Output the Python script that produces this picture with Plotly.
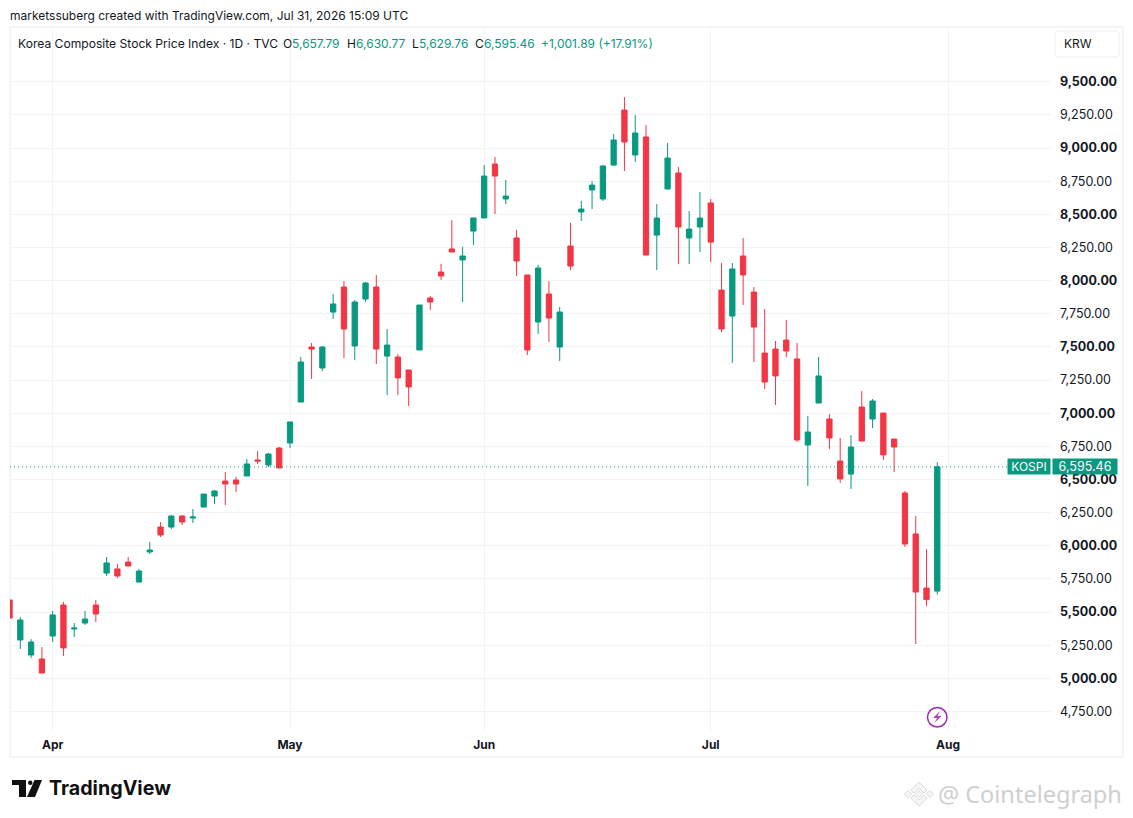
import plotly.graph_objects as go

# candles in trading-day order (index 0 is the clipped bar at the left edge)
opens = [5591, 5289, 5176, 5146, 5319, 5553, 5372, 5417, 5553, 5794, 5825, 5877, 5726, 5953, 6141, 6141, 6224, 6209, 6292,
         6375, 6488, 6496, 6526, 6647, 6609, 6737, 6775, 7084, 7499, 7341, 7763, 7952, 7507, 7861, 7952, 7431, 7424, 7326,
         7477, 7869, 8065, 8239, 8156, 8374, 8473, 8880, 8616, 8322, 8043, 7688, 7899, 7499, 8261, 8518, 8684, 8616, 8872,
         9287, 8948, 9084, 8344, 8691, 8812, 8322, 8405, 8586, 7929, 7733, 8186, 7914, 7454, 7484, 7552, 7409, 6760, 7077,
         6956, 6639, 6541, 7047, 6956, 7001, 6805, 6398, 6089, 5681, 5657.79]
highs = [5591, 5462, 5296, 5236, 5508, 5576, 5417, 5508, 5591, 5915, 5862, 5915, 5825, 6028, 6179, 6232, 6232, 6277, 6390,
         6421, 6556, 6519, 6654, 6715, 6700, 6745, 6934, 7424, 7530, 7507, 7899, 7997, 7854, 7990, 8043, 7635, 7446, 7326,
         7816, 7884, 8126, 8457, 8254, 8473, 8872, 8933, 8759, 8382, 8043, 8118, 7997, 7801, 8435, 8601, 8752, 8872, 9106,
         9385, 9249, 9174, 8578, 9038, 8857, 8525, 8669, 8616, 8133, 8133, 8322, 7952, 7786, 7545, 7703, 7529, 6979, 7424,
         6994, 6813, 6835, 7167, 7107, 7001, 6805, 6413, 6224, 5975, 6630.77]
lows = [5455, 5221, 5153, 5040, 5274, 5168, 5312, 5402, 5425, 5772, 5757, 5847, 5726, 5938, 6066, 6126, 6156, 6172, 6292,
        6315, 6307, 6405, 6526, 6617, 6594, 6587, 6737, 7084, 7258, 7318, 7711, 7416, 7401, 7839, 7371, 7137, 7137, 7054,
        7477, 7778, 8005, 8216, 7839, 8269, 8473, 8503, 8578, 8035, 7439, 7597, 7537, 7394, 8080, 8450, 8540, 8601, 8865,
        8827, 8895, 8193, 8080, 8691, 8125, 8125, 8216, 8141, 7612, 7379, 7816, 7386, 7182, 7062, 7424, 6783, 6451, 7077,
        6730, 6473, 6428, 6790, 6888, 6647, 6556, 5991, 5259, 5545, 5629.76]
closes = [5455, 5440, 5274, 5040, 5478, 5229, 5379, 5447, 5485, 5870, 5772, 5847, 5809, 5968, 6081, 6224, 6179, 6217, 6390,
          6413, 6466, 6466, 6617, 6639, 6692, 6587, 6934, 7386, 7484, 7499, 7824, 7635, 7839, 7982, 7484, 7514, 7266, 7198,
          7816, 7839, 8035, 8216, 8186, 8473, 8789, 8789, 8638, 8148, 7477, 8095, 7718, 7763, 8110, 8540, 8721, 8865, 9061,
          9046, 9114, 8193, 8472, 8925, 8405, 8389, 8472, 8291, 7635, 8088, 8043, 7650, 7235, 7281, 7469, 6798, 6858, 7281,
          6813, 6504, 6745, 6790, 7092, 6685, 6745, 6013, 5651, 5593.57, 6595.46]

month_labels = ['Apr', 'May', 'Jun', 'Jul', 'Aug']
month_idx = [4, 26, 44, 65, 87]
price_ticks = [4750, 5000, 5250, 5500, 5750, 6000, 6250, 6500, 6750, 7000, 7250, 7500, 7750, 8000, 8250, 8500, 8750, 9000,
               9250, 9500]
last_price = 6595.46

GREEN = '#089981'
RED = '#F23645'
INK = '#131722'
GRID = '#F2F3F5'
MARK = '#DADADA'

# the page keeps its default 8px body margin, so everything below is placed from window pixels
W, H = 1125, 802


def px(x):
    return (x - 8) / W


def py(y):
    return 1 - (y - 8) / H


def poly(points):
    return 'M' + ' L'.join(f'{px(x)},{py(y)}' for x, y in points) + ' Z'


def rounded(x0, y0, x1, y1, r):
    return (f'M{px(x0 + r)},{py(y0)} L{px(x1 - r)},{py(y0)} Q{px(x1)},{py(y0)} {px(x1)},{py(y0 + r)} '
            f'L{px(x1)},{py(y1 - r)} Q{px(x1)},{py(y1)} {px(x1 - r)},{py(y1)} '
            f'L{px(x0 + r)},{py(y1)} Q{px(x0)},{py(y1)} {px(x0)},{py(y1 - r)} '
            f'L{px(x0)},{py(y0 + r)} Q{px(x0)},{py(y0)} {px(x0 + r)},{py(y0)} Z')


fig = go.Figure(go.Candlestick(
    x=list(range(len(opens))), open=opens, high=highs, low=lows, close=closes,
    increasing=dict(line=dict(color=GREEN, width=1), fillcolor=GREEN),
    decreasing=dict(line=dict(color=RED, width=1), fillcolor=RED),
    whiskerwidth=0, showlegend=False))

tick_text = [f'<b>{v:,.2f}</b>' if v % 500 == 0 else f'{v:,.2f}' for v in price_ticks]

fig.update_layout(
    width=W, height=H, margin=dict(l=0, r=0, t=0, b=0),
    paper_bgcolor='white', plot_bgcolor='white',
    font=dict(family='Inter', size=13, color=INK),
    xaxis=dict(domain=[px(10), px(1051)], range=[0.045, 96.54], rangeslider=dict(visible=False),
               tickvals=month_idx, ticktext=[f'<b>{m}</b>' for m in month_labels],
               tickfont=dict(size=12, color=INK), ticks='', showline=False, zeroline=False,
               showgrid=True, gridcolor=GRID, gridwidth=1, ticklabelstandoff=6),
    yaxis=dict(domain=[py(730), py(28)], range=[4610, 9906], side='right', tickvals=price_ticks, ticktext=tick_text,
               tickfont=dict(size=12.5, color=INK), ticks='', showline=False, zeroline=False,
               showgrid=True, gridcolor=GRID, gridwidth=1, ticklabelstandoff=8),
)

# frame, last-price line, KRW button, logo
fig.add_shape(type='rect', xref='paper', yref='paper', x0=px(10), x1=px(1123), y0=py(757), y1=py(27),
              line=dict(color='#F0F1F3', width=1.5), layer='below')
fig.add_shape(type='line', xref='paper', yref='y', x0=px(10), x1=px(1007), y0=last_price, y1=last_price,
              line=dict(color=GREEN, width=1, dash='1px,3px'))
fig.add_shape(type='path', xref='paper', yref='paper', line=dict(color='#EEEFF2', width=1), fillcolor='white',
              path=rounded(1055, 31, 1119, 57, 4))
fig.add_shape(type='path', xref='paper', yref='paper', line=dict(width=0), fillcolor='#111111',
              path=poly([(12, 780), (26, 780), (26, 797), (19, 797), (19, 785), (12, 785)]))
fig.add_shape(type='circle', xref='paper', yref='paper', line=dict(width=0), fillcolor='#111111',
              x0=px(28), x1=px(32.5), y0=py(785), y1=py(780.5))
fig.add_shape(type='path', xref='paper', yref='paper', line=dict(width=0), fillcolor='#111111',
              path=poly([(34.5, 780), (42, 780), (35, 797), (27, 797)]))

# lightning marker
fig.add_shape(type='circle', xref='paper', yref='paper', line=dict(color='#9C27B0', width=1.5), fillcolor='white',
              x0=px(927.5), x1=px(947), y0=py(727), y1=py(707.5))
fig.add_shape(type='path', xref='paper', yref='paper', line=dict(width=0), fillcolor='#AB47BC',
              path=poly([(940, 711), (933, 718), (937, 718), (934.5, 723), (941.5, 716), (937.5, 716)]))

# watermark mark: centre and side diamonds, chevrons above and below
for cx in [908, 919, 930]:
    fig.add_shape(type='path', xref='paper', yref='paper', line=dict(color=MARK, width=1), fillcolor='#F6F6F6',
                  path=poly([(cx, 790.5), (cx + 3.5, 794), (cx, 797.5), (cx - 3.5, 794)]))
fig.add_shape(type='path', xref='paper', yref='paper', line=dict(color=MARK, width=1), fillcolor='#F6F6F6',
              path=poly([(919, 782), (927, 790), (924, 793), (919, 788), (914, 793), (911, 790)]))
fig.add_shape(type='path', xref='paper', yref='paper', line=dict(color=MARK, width=1), fillcolor='#F6F6F6',
              path=poly([(919, 806), (927, 798), (924, 795), (919, 800), (914, 795), (911, 798)]))


def label(x, y, text, size=12, color=INK, anchor='left', family='Inter', **kw):
    # annotations keep about 2px of padding, taken off here so x is where the ink starts
    fig.add_annotation(xref='paper', yref='paper', x=px(x - 2), y=py(y), text=text, showarrow=False, xanchor=anchor,
                       yanchor='middle', align='left', font=dict(size=size, color=color, family=family), **kw)


label(10, 15.5, 'marketssuberg created with TradingView.com, Jul 31, 2026 15:09 UTC', size=12)
label(18, 43, 'Korea Composite Stock Price Index · 1D · TVC', size=12.1)
label(283, 43, 'O', size=12)
label(292, 43, '5,657.79', size=12, color=GREEN)
label(347, 43, 'H', size=12)
label(355.5, 43, '6,630.77', size=12, color=GREEN)
label(412, 43, 'L', size=12)
label(419, 43, '5,629.76', size=12, color=GREEN)
label(475, 43, 'C', size=12)
label(484.5, 43, '6,595.46', size=12, color=GREEN)
label(541, 43, '+1,001.89 (+17.91%)', size=12, color=GREEN)
label(1064, 44, 'KRW', size=12)
label(49, 788, '<b>TradingView</b>', size=19.7, color='#111111')
label(938, 793.5, '@ Cointelegraph', size=23.5, color='#CFCFCF', family='Noto Sans')

# price tags
fig.add_annotation(xref='paper', yref='y', x=px(1007), y=last_price, text='KOSPI', showarrow=False, xanchor='left',
                   yanchor='middle', width=40, height=13, bgcolor=GREEN, font=dict(size=12, color='white'))
fig.add_annotation(xref='paper', yref='y', x=px(1052), y=last_price, text=f'{last_price:,.2f}', showarrow=False,
                   xanchor='left', yanchor='middle', width=62, height=13, bgcolor=GREEN,
                   font=dict(size=12.5, color='white'))

fig.write_html("out.html")
